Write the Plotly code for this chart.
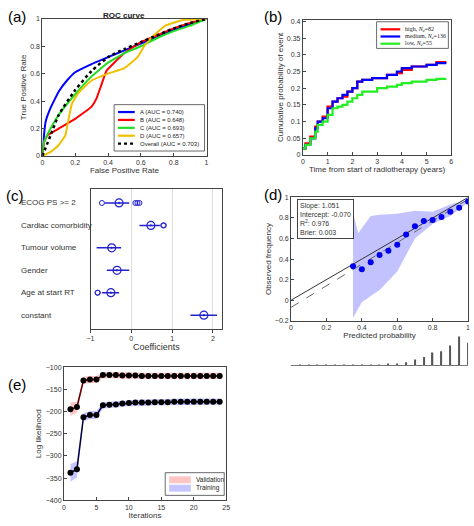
import plotly.graph_objects as go

W, H = 474, 526
def px(x0, x1): return [x0 / W, x1 / W]
def py(y0, y1): return [1 - y1 / H, 1 - y0 / H]

# (a) ROC
roc_A_x = [0, 0.01, 0.02, 0.05, 0.1, 0.15, 0.2, 0.3, 0.4, 0.5, 0.6, 0.7, 0.8, 0.9, 1]
roc_A_y = [0, 0.15, 0.25, 0.35, 0.47, 0.55, 0.61, 0.67, 0.72, 0.77, 0.82, 0.87, 0.92, 0.96, 1]
roc_B_x = [0, 0.01, 0.03, 0.1, 0.2, 0.3, 0.33, 0.36, 0.39, 0.43, 0.5, 0.6, 0.7, 0.8, 0.9, 1]
roc_B_y = [0, 0.1, 0.15, 0.2, 0.27, 0.36, 0.42, 0.52, 0.62, 0.67, 0.75, 0.83, 0.88, 0.93, 0.97, 1]
roc_C_x = [0, 0.01, 0.05, 0.1, 0.2, 0.3, 0.4, 0.5, 0.6, 0.7, 0.8, 0.9, 1]
roc_C_y = [0, 0.1, 0.2, 0.3, 0.45, 0.58, 0.68, 0.75, 0.8, 0.86, 0.91, 0.95, 1]
roc_D_x = [0, 0.05, 0.1, 0.14, 0.16, 0.18, 0.22, 0.3, 0.4, 0.5, 0.58, 0.62, 0.68, 0.75, 0.85, 1]
roc_D_y = [0, 0.03, 0.08, 0.15, 0.27, 0.38, 0.46, 0.55, 0.6, 0.64, 0.72, 0.8, 0.88, 0.95, 0.99, 1]
roc_O_x = [0, 0.05, 0.1, 0.2, 0.3, 0.4, 0.5, 0.6, 0.7, 0.8, 0.9, 1]
roc_O_y = [0, 0.15, 0.3, 0.48, 0.62, 0.72, 0.78, 0.83, 0.88, 0.93, 0.97, 1]
roc_names = ["A (AUC = 0.740)", "B (AUC = 0.648)", "C (AUC = 0.693)", "D (AUC = 0.657)", "Overall (AUC = 0.703)"]

# (b) cumulative incidence
km_t = [0, 0.1, 0.3, 0.5, 0.6, 0.8, 1.0, 1.2, 1.4, 1.6, 1.8, 2.0, 2.2, 2.4, 2.8, 3.0, 3.4, 3.8, 4.0, 4.4, 5.0, 5.4, 5.8]
km_high = [0.02, 0.035, 0.055, 0.085, 0.1, 0.115, 0.145, 0.16, 0.17, 0.175, 0.19, 0.2, 0.22, 0.225, 0.23, 0.23, 0.24, 0.245, 0.255, 0.265, 0.27, 0.278, 0.278]
km_med = [0.02, 0.03, 0.05, 0.08, 0.1, 0.11, 0.14, 0.16, 0.17, 0.18, 0.19, 0.2, 0.22, 0.225, 0.23, 0.23, 0.24, 0.25, 0.26, 0.265, 0.27, 0.275, 0.275]
km_low = [0.02, 0.03, 0.05, 0.07, 0.09, 0.1, 0.12, 0.14, 0.145, 0.15, 0.16, 0.17, 0.18, 0.19, 0.19, 0.2, 0.205, 0.21, 0.215, 0.22, 0.225, 0.228, 0.228]
km_names = ["high, <i>N<sub>e</sub></i>=82", "medium, <i>N<sub>e</sub></i>=136", "low, <i>N<sub>e</sub></i>=55"]

# (c) coefficients
coef_labels = ["ECOG PS >= 2", "Cardiac comorbidity", "Tumour volume", "Gender", "Age at start RT", "constant"]
coef_mid = [-0.3, 0.48, -0.48, -0.35, -0.5, 1.78]
coef_lo = [-0.65, 0.2, -0.85, -0.6, -0.72, 1.45]
coef_hi = [-0.05, 0.7, -0.25, -0.05, -0.3, 2.1]
coef_out_x = [[-0.72, 0.1, 0.15, 0.2], [0.78, 0.8], [], [], [-0.82, -0.83], []]

# (d) calibration
cal_x = [0.35, 0.4, 0.45, 0.5, 0.55, 0.6, 0.65, 0.7, 0.75, 0.8, 0.85, 0.9, 0.95, 1.0]
cal_y = [0.33, 0.30, 0.37, 0.44, 0.48, 0.54, 0.64, 0.72, 0.77, 0.78, 0.81, 0.86, 0.90, 0.96]
band_x = [0.35, 0.38, 0.4, 0.45, 0.5, 0.6, 0.7, 0.8, 0.9, 1.0]
band_hi = [0.85, 0.65, 0.70, 0.82, 0.83, 0.84, 0.87, 0.86, 0.93, 0.98]
band_lo = [-0.17, -0.08, -0.02, 0.04, 0.1, 0.28, 0.6, 0.74, 0.82, 0.95]
hist_x = [0.05, 0.1, 0.15, 0.2, 0.25, 0.3, 0.35, 0.4, 0.45, 0.5, 0.55, 0.6, 0.65, 0.7, 0.75, 0.8, 0.85, 0.9, 0.95, 1.0]
hist_h = [0.6, 0.6, 0.6, 0.6, 0.6, 0.6, 0.6, 0.6, 0.6, 0.6, 1, 1.7, 3, 5.7, 8.3, 12.7, 14, 20, 29, 22.7]

# (e) log likelihood
it = list(range(1, 25))
val = [-195, -190, -130, -128, -128, -118, -118, -118, -119, -119, -119, -120, -120, -120, -120, -120, -120, -120, -120, -120, -120, -120, -120, -120]
trn = [-338, -330, -213, -208, -208, -186, -185, -184, -182, -181, -180, -180, -180, -179, -179, -179, -178, -178, -178, -178, -178, -178, -178, -178]
val_sd = [15, 12, 8, 8, 8, 7, 7, 7, 7, 7, 7, 7, 7, 7, 7, 7, 7, 7, 7, 7, 7, 7, 7, 7]
trn_sd = [20, 18, 9, 9, 9, 7, 7, 7, 7, 7, 7, 7, 7, 7, 7, 7, 7, 7, 7, 7, 7, 7, 7, 7]
legend_e = ["Validation", "Training"]

F = "Liberation Sans"
fig = go.Figure()
shapes, ann = [], []

def pl(x, y):  # pixel -> paper
    return x / W, 1 - y / H

def manual_legend(x0, y0, x1, y1, items, rowh, font, sym_w=22, pad=4):
    a, b = pl(x0, y0); c, d = pl(x1, y1)
    shapes.append(dict(type="rect", xref="paper", yref="paper", x0=a, y0=d, x1=c, y1=b, line=dict(color="#444", width=0.8), fillcolor="white", layer="above"))
    for k, (label, kind, col, dash) in enumerate(items):
        yc = y0 + pad + rowh * (k + 0.5)
        if kind == "line":
            p, q = pl(x0 + 4, yc); r, s = pl(x0 + 4 + sym_w, yc)
            shapes.append(dict(type="line", xref="paper", yref="paper", x0=p, y0=q, x1=r, y1=s, line=dict(color=col, width=2.2, dash=dash), layer="above"))
        else:
            p, q = pl(x0 + 4, yc - 3.5); r, s = pl(x0 + 4 + sym_w, yc + 3.5)
            shapes.append(dict(type="rect", xref="paper", yref="paper", x0=p, y0=s, x1=r, y1=q, line=dict(width=0), fillcolor=col, layer="above"))
        tx, ty = pl(x0 + 7 + sym_w, yc)
        ann.append(dict(text=label, xref="paper", yref="paper", x=tx, y=ty, xanchor="left", yanchor="middle", showarrow=False, font=font))

# --- a
cols = ["#0000ff", "#ff0000", "#22dd22", "#f0c000"]
for xs, ys, c in zip([roc_A_x, roc_B_x, roc_C_x, roc_D_x], [roc_A_y, roc_B_y, roc_C_y, roc_D_y], cols):
    fig.add_trace(go.Scatter(x=xs, y=ys, mode="lines", line=dict(color=c, width=2, shape="spline", smoothing=0.3), showlegend=False, xaxis="x", yaxis="y"))
fig.add_trace(go.Scatter(x=roc_O_x, y=roc_O_y, mode="lines", line=dict(color="black", width=2.5, dash="dot", shape="spline", smoothing=0.5), showlegend=False, xaxis="x", yaxis="y"))
manual_legend(112, 102, 204, 149, [(roc_names[i], "line", (cols + ["black"])[i], "dot" if i == 4 else "solid") for i in range(5)], 8, dict(size=6, color="#222"), sym_w=17, pad=3.5)

# --- b
kcols = ["#ff0000", "#0000ff", "#22ee22"]
for ys, c in zip([km_high, km_med, km_low], kcols):
    fig.add_trace(go.Scatter(x=km_t, y=ys, mode="lines", line=dict(color=c, width=2.2, shape="hv"), showlegend=False, xaxis="x2", yaxis="y2"))
manual_legend(379, 18, 452, 45, [(km_names[i], "line", kcols[i], "solid") for i in range(3)], 7.3, dict(size=6, color="#222", family="Liberation Serif"), sym_w=20)

# --- c
for i, lab in enumerate(coef_labels):
    fig.add_trace(go.Scatter(x=[coef_lo[i], coef_hi[i]], y=[lab, lab], mode="lines", line=dict(color="#2222cc", width=1.5), showlegend=False, xaxis="x3", yaxis="y3"))
    fig.add_trace(go.Scatter(x=[coef_mid[i]], y=[lab], mode="markers", marker=dict(symbol="circle-dot", size=8, color="rgba(0,0,0,0)", line=dict(color="#2222cc", width=1.2)), showlegend=False, xaxis="x3", yaxis="y3"))
    if coef_out_x[i]:
        fig.add_trace(go.Scatter(x=coef_out_x[i], y=[lab] * len(coef_out_x[i]), mode="markers", marker=dict(symbol="circle-open", size=5, color="#2222cc"), showlegend=False, xaxis="x3", yaxis="y3"))

# --- d
fig.add_trace(go.Scatter(x=band_x + band_x[::-1], y=band_hi + band_lo[::-1], fill="toself", fillcolor="rgba(120,120,255,0.45)", line=dict(width=0), showlegend=False, xaxis="x4", yaxis="y4"))
fig.add_trace(go.Scatter(x=[0, 1], y=[0, 1], mode="lines", line=dict(color="#333", width=1), showlegend=False, xaxis="x4", yaxis="y4"))
fig.add_trace(go.Scatter(x=[0, 1], y=[-0.07, 0.981], mode="lines", line=dict(color="#666", width=1, dash="dash"), showlegend=False, xaxis="x4", yaxis="y4"))
fig.add_trace(go.Scatter(x=cal_x, y=cal_y, mode="markers", marker=dict(color="#0000ee", size=6), showlegend=False, xaxis="x4", yaxis="y4"))
fig.add_trace(go.Bar(x=hist_x, y=hist_h, width=0.007, marker=dict(color="#555", line=dict(width=0)), showlegend=False, xaxis="x6", yaxis="y6"))

# --- e
for ys, sd, fc in [(val, val_sd, "rgba(255,140,140,0.5)"), (trn, trn_sd, "rgba(140,140,255,0.5)")]:
    up = [a + b for a, b in zip(ys, sd)]
    lo = [a - b for a, b in zip(ys, sd)]
    fig.add_trace(go.Scatter(x=it + it[::-1], y=up + lo[::-1], fill="toself", fillcolor=fc, line=dict(width=0), showlegend=False, xaxis="x5", yaxis="y5"))
for ys, lc in [(val, "#5a0000"), (trn, "#000040")]:
    fig.add_trace(go.Scatter(x=it, y=ys, mode="lines+markers", line=dict(color=lc, width=1.5), marker=dict(color="black", size=6), showlegend=False, xaxis="x5", yaxis="y5"))
manual_legend(164, 475, 224, 498, [(legend_e[0], "rect", "rgba(255,140,140,0.5)", None), (legend_e[1], "rect", "rgba(140,140,255,0.5)", None)], 8.5, dict(size=6.5, color="#222"), sym_w=22, pad=3)

ax = dict(showline=True, linecolor="#444", mirror=True, ticks="inside", ticklen=3, tickcolor="#444",
          showgrid=False, zeroline=False, tickfont=dict(size=7, color="#333"), title_font=dict(size=8, color="#333"))
fig.update_layout(
    width=W, height=H, margin=dict(l=0, r=0, t=0, b=0), paper_bgcolor="white", plot_bgcolor="white",
    font=dict(family=F, color="#333"), showlegend=False,
    xaxis=dict(ax, domain=px(39, 206), range=[0, 1], tickvals=[0, 0.2, 0.4, 0.6, 0.8, 1], ticktext=["0", "0.2", "0.4", "0.6", "0.8", "1"], title=dict(text="False Positive Rate", standoff=2)),
    yaxis=dict(ax, domain=py(15, 154), range=[0, 1], tickvals=[0, 0.2, 0.4, 0.6, 0.8, 1], ticktext=["0", "0.2", "0.4", "0.6", "0.8", "1"], title=dict(text="True Positive Rate", standoff=2)),
    xaxis2=dict(ax, domain=px(304, 455), range=[0, 6], dtick=1, anchor="y2", title=dict(text="Time from start of radiotherapy (years)", standoff=2)),
    yaxis2=dict(ax, domain=py(16, 153), range=[0, 0.405], dtick=0.05, anchor="x2", title=dict(text="Cumulative probability of event", standoff=2)),
    xaxis3=dict(ax, domain=px(88, 222), range=[-1, 2.23], tickvals=[-1, 0, 1, 2], anchor="y3", showgrid=True, gridcolor="#ddd", ticks="outside",
                title=dict(text="Coefficients", standoff=2, font=dict(size=9, color="#333"))),
    yaxis3=dict(ax, domain=py(188, 329), type="category", categoryorder="array", categoryarray=coef_labels[::-1], range=[-0.6, 5.6], showticklabels=False, ticks="", anchor="x3"),
    xaxis4=dict(ax, domain=px(292, 472), range=[0, 1], dtick=0.2, anchor="y4", title=dict(text="Predicted probability", standoff=2)),
    yaxis4=dict(ax, domain=py(196, 321), range=[-0.2, 1], dtick=0.2, anchor="x4", title=dict(text="Observed frequency", standoff=2)),
    xaxis6=dict(domain=px(292, 472), range=[0, 1], anchor="y6", showline=True, linecolor="#777", linewidth=0.8, showticklabels=False, ticks="", showgrid=False, zeroline=False),
    yaxis6=dict(domain=py(336, 366), range=[0, 30], anchor="x6", visible=False),
    xaxis5=dict(ax, domain=px(61, 226), range=[0, 25], dtick=5, anchor="y5", title=dict(text="Iterations", standoff=2)),
    yaxis5=dict(ax, domain=py(368, 503), range=[-400, -100], dtick=50, anchor="x5", title=dict(text="Log likelihood", standoff=2)),
)

lab_ann = [
    dict(text="(a)", x=2 / W, y=1 - 2 / H, font=dict(size=15, color="black")),
    dict(text="(b)", x=262 / W, y=1 - 2 / H, font=dict(size=15, color="black")),
    dict(text="(c)", x=0, y=1 - 183 / H, font=dict(size=15, color="black")),
    dict(text="(d)", x=262 / W, y=1 - 182 / H, font=dict(size=15, color="black")),
    dict(text="(e)", x=2 / W, y=1 - 375 / H, font=dict(size=15, color="black")),
    dict(text="<b>ROC curve</b>", x=122 / W, y=1 - 5 / H, xanchor="center", font=dict(size=8, color="#222")),
    dict(text="Slope: 1.051<br>Intercept: -0.070<br>R<sup>2</sup>: 0.976<br>Brier: 0.003", x=298 / W, y=1 - 198 / H, align="left",
         font=dict(size=7, color="#333"), bgcolor="white", bordercolor="#444", borderwidth=1, borderpad=2),
]
for a in lab_ann:
    a.update(xref="paper", yref="paper", showarrow=False)
    a.setdefault("xanchor", "left"); a["yanchor"] = "top"
for i, lab in enumerate(coef_labels):
    lab_ann.append(dict(text=lab, xref="paper", yref="y3", x=15 / W, y=lab, xanchor="left", showarrow=False, font=dict(size=8, color="#333")))
fig.update_layout(annotations=lab_ann + ann, shapes=shapes)
fig.write_html("out.html", config={"displayModeBar": False},
               post_script="document.body.style.margin='0';document.body.style.padding='0';document.body.style.overflow='hidden';")
